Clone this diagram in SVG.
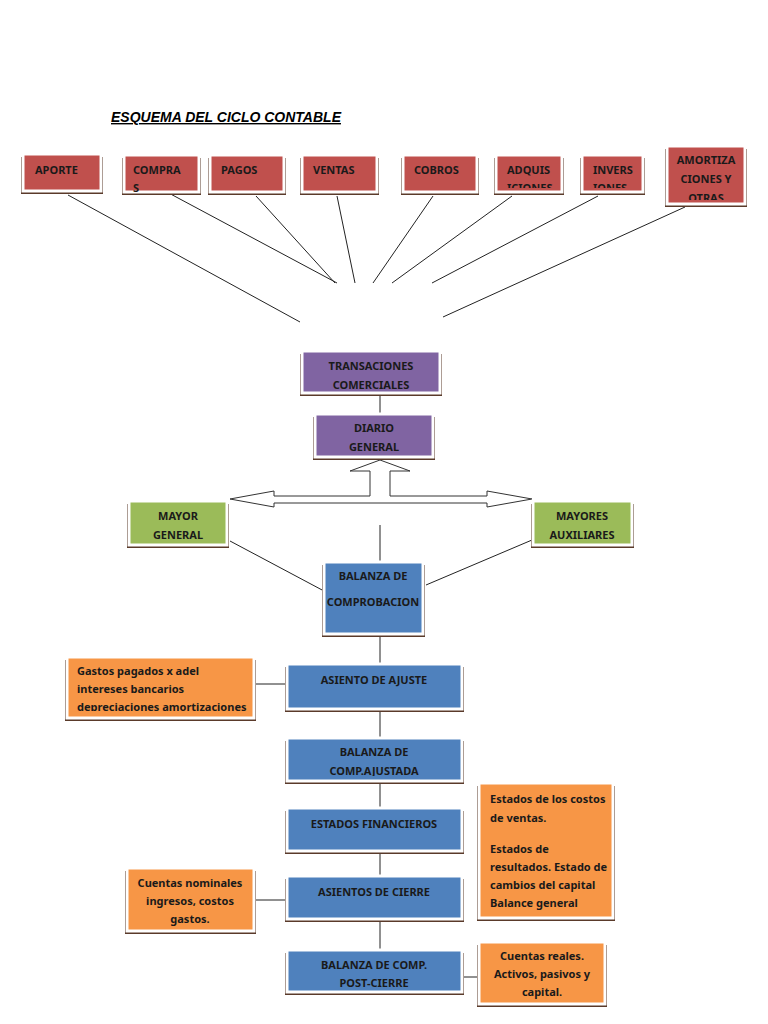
<svg xmlns="http://www.w3.org/2000/svg" width="768" height="1024" viewBox="0 0 768 1024">
<style>
.t{font-family:"Noto Sans","Liberation Sans",sans-serif;font-weight:bold;font-size:11px;fill:#1a1a1a}
.m{text-anchor:middle}
.sh{fill:#5a3a2a}
.b{stroke:#fff;stroke-width:3}
.r{fill:#C0504D}.p{fill:#8064A2}.g{fill:#9BBB59}.bl{fill:#4F81BD}.o{fill:#F79646}
.c{stroke:#222;stroke-width:1;fill:none}
</style>
<defs>
<clipPath id="c1"><rect x="23" y="154" width="78" height="37"/></clipPath>
<clipPath id="c2"><rect x="124" y="155" width="75" height="37"/></clipPath>
<clipPath id="c3"><rect x="496" y="155" width="66" height="33"/></clipPath>
<clipPath id="c4"><rect x="582" y="155" width="61" height="33"/></clipPath>
<clipPath id="c5"><rect x="667" y="146" width="78" height="54"/></clipPath>
<clipPath id="c6"><rect x="302" y="351" width="138" height="38"/></clipPath>
<clipPath id="c7"><rect x="315" y="414" width="118" height="39"/></clipPath>
<clipPath id="c8"><rect x="129" y="501" width="98" height="40"/></clipPath>
<clipPath id="c9"><rect x="533" y="501" width="99" height="40"/></clipPath>
<clipPath id="c10"><rect x="67" y="657" width="187" height="54"/></clipPath>
<clipPath id="c11"><rect x="287" y="738" width="175" height="38"/></clipPath>
<clipPath id="c12"><rect x="127" y="868" width="127" height="58"/></clipPath>
<clipPath id="c13"><rect x="287" y="950" width="175" height="38"/></clipPath>
</defs>
<rect width="768" height="1024" fill="#fff"/>
<text x="111" y="122" font-family="Liberation Sans,Arial,sans-serif" font-size="14" font-weight="bold" font-style="italic" text-decoration="underline" fill="#000">ESQUEMA DEL CICLO CONTABLE</text>

<g id="connectors" class="c">
<line x1="68" y1="195" x2="300" y2="322"/>
<line x1="150" y1="183" x2="337" y2="283"/>
<line x1="256" y1="196" x2="335" y2="283"/>
<line x1="337" y1="196" x2="355" y2="283"/>
<line x1="433" y1="196" x2="373" y2="283"/>
<line x1="512" y1="196" x2="392" y2="283"/>
<line x1="598" y1="196" x2="432" y2="283"/>
<line x1="685" y1="207" x2="443" y2="317"/>
<line x1="380" y1="393" x2="380" y2="414"/>
<path d="M380 460 L410 471 L390 471 L390 496 L487 496 L487 491 L532 499 L487 507 L487 503 L274 503 L274 507 L230 499 L274 491 L274 496 L370 496 L370 471 L350 471 Z" fill="#fff" stroke="#333"/>
<line x1="380" y1="525" x2="380" y2="562"/>
<line x1="230" y1="541" x2="324" y2="591"/>
<line x1="532" y1="540" x2="426" y2="585"/>
<line x1="380" y1="634" x2="380" y2="664"/>
<line x1="254" y1="684" x2="287" y2="684"/>
<line x1="380" y1="709" x2="380" y2="738"/>
<line x1="380" y1="781" x2="380" y2="808"/>
<line x1="380" y1="851" x2="380" y2="876"/>
<line x1="254" y1="900" x2="287" y2="900"/>
<line x1="380" y1="919" x2="380" y2="950"/>
<line x1="462" y1="977" x2="479" y2="977"/>
</g>

<g id="aporte"><rect class="sh" x="21" y="157" width="82" height="37"/><rect class="r b" x="23" y="154" width="78" height="37"/><text class="t" x="35" y="174">APORTE</text></g>
<g id="compras"><rect class="sh" x="122" y="158" width="79" height="37"/><rect class="r b" x="124" y="155" width="75" height="37"/><g clip-path="url(#c2)"><text class="t" x="133" y="174">COMPRA</text><text class="t" x="133" y="192">S</text></g></g>
<g id="pagos"><rect class="sh" x="208" y="158" width="78" height="37"/><rect class="r b" x="210" y="155" width="74" height="37"/><text class="t" x="221" y="174">PAGOS</text></g>
<g id="ventas"><rect class="sh" x="300" y="158" width="79" height="37"/><rect class="r b" x="302" y="155" width="75" height="37"/><text class="t" x="313" y="174">VENTAS</text></g>
<g id="cobros"><rect class="sh" x="401" y="158" width="78" height="37"/><rect class="r b" x="403" y="155" width="74" height="37"/><text class="t" x="414" y="174">COBROS</text></g>
<g id="adquis"><rect class="sh" x="494" y="158" width="70" height="37"/><rect class="r b" x="496" y="155" width="66" height="37"/><g clip-path="url(#c3)"><text class="t" x="507" y="174">ADQUIS</text><text class="t" x="507" y="192">ICIONES</text></g></g>
<g id="invers"><rect class="sh" x="580" y="158" width="65" height="37"/><rect class="r b" x="582" y="155" width="61" height="37"/><g clip-path="url(#c4)"><text class="t" x="593" y="174">INVERS</text><text class="t" x="593" y="192">IONES</text></g></g>
<g id="amortiza"><rect class="sh" x="665" y="149" width="82" height="58"/><rect class="r b" x="667" y="146" width="78" height="58"/><g clip-path="url(#c5)"><text class="t m" x="706" y="164">AMORTIZA</text><text class="t m" x="706" y="183">CIONES Y</text><text class="t m" x="706" y="202">OTRAS</text></g></g>

<g id="transacciones"><rect class="sh" x="300" y="354" width="142" height="42"/><rect class="p b" x="302" y="351" width="138" height="42"/><g clip-path="url(#c6)"><text class="t m" x="371" y="370">TRANSACIONES</text><text class="t m" x="371" y="389">COMERCIALES</text></g></g>
<g id="diario"><rect class="sh" x="313" y="417" width="122" height="43"/><rect class="p b" x="315" y="414" width="118" height="43"/><g clip-path="url(#c7)"><text class="t m" x="374" y="432">DIARIO</text><text class="t m" x="374" y="451">GENERAL</text></g></g>
<g id="mayor"><rect class="sh" x="127" y="504" width="102" height="44"/><rect class="g b" x="129" y="501" width="98" height="44"/><g clip-path="url(#c8)"><text class="t m" x="178" y="520">MAYOR</text><text class="t m" x="178" y="539">GENERAL</text></g></g>
<g id="mayores"><rect class="sh" x="531" y="504" width="103" height="44"/><rect class="g b" x="533" y="501" width="99" height="44"/><g clip-path="url(#c9)"><text class="t m" x="582" y="520">MAYORES</text><text class="t m" x="582" y="539">AUXILIARES</text></g></g>
<g id="balanza"><rect class="sh" x="322" y="565" width="103" height="72"/><rect class="bl b" x="324" y="562" width="99" height="72"/><text class="t m" x="373" y="580" font-size="8">BALANZA DE</text><text class="t m" x="373" y="606" font-size="8">COMPROBACION</text></g>

<g id="gastos"><rect class="sh" x="65" y="660" width="191" height="61"/><rect class="o b" x="67" y="657" width="187" height="61"/><g clip-path="url(#c10)"><text class="t" x="77" y="675">Gastos pagados x adel</text><text class="t" x="77" y="693">intereses bancarios</text><text class="t" x="77" y="711">depreciaciones amortizaciones</text></g></g>
<g id="ajuste"><rect class="sh" x="285" y="667" width="179" height="45"/><rect class="bl b" x="287" y="664" width="175" height="45"/><text class="t m" x="374" y="684">ASIENTO DE AJUSTE</text></g>
<g id="ajustada"><rect class="sh" x="285" y="741" width="179" height="43"/><rect class="bl b" x="287" y="738" width="175" height="43"/><g clip-path="url(#c11)"><text class="t m" x="374" y="756">BALANZA DE</text><text class="t m" x="374" y="775">COMP.AJUSTADA</text></g></g>
<g id="estados"><rect class="sh" x="285" y="811" width="179" height="43"/><rect class="bl b" x="287" y="808" width="175" height="43"/><text class="t m" x="374" y="828">ESTADOS FINANCIEROS</text></g>
<g id="estadosnota"><rect class="sh" x="477" y="786" width="138" height="135"/><rect class="o b" x="479" y="783" width="134" height="135"/><text class="t" x="490" y="803">Estados de los costos</text><text class="t" x="490" y="822">de ventas.</text><text class="t" x="490" y="853">Estados de</text><text class="t" x="490" y="871">resultados. Estado de</text><text class="t" x="490" y="889">cambios del capital</text><text class="t" x="490" y="907">Balance general</text></g>
<g id="cierre"><rect class="sh" x="285" y="879" width="179" height="43"/><rect class="bl b" x="287" y="876" width="175" height="43"/><text class="t m" x="374" y="896">ASIENTOS DE CIERRE</text></g>
<g id="nominales"><rect class="sh" x="125" y="871" width="131" height="63"/><rect class="o b" x="127" y="868" width="127" height="63"/><g clip-path="url(#c12)"><text class="t m" x="190" y="887">Cuentas nominales</text><text class="t m" x="190" y="905">ingresos, costos</text><text class="t m" x="190" y="923">gastos.</text></g></g>
<g id="postcierre"><rect class="sh" x="285" y="953" width="179" height="42"/><rect class="bl b" x="287" y="950" width="175" height="42"/><g clip-path="url(#c13)"><text class="t m" x="374" y="969">BALANZA DE COMP.</text><text class="t m" x="374" y="987">POST-CIERRE</text></g></g>
<g id="reales"><rect class="sh" x="477" y="945" width="130" height="62"/><rect class="o b" x="479" y="942" width="126" height="62"/><text class="t m" x="542" y="960">Cuentas reales.</text><text class="t m" x="542" y="978">Activos, pasivos y</text><text class="t m" x="542" y="996">capital.</text></g>
</svg>
